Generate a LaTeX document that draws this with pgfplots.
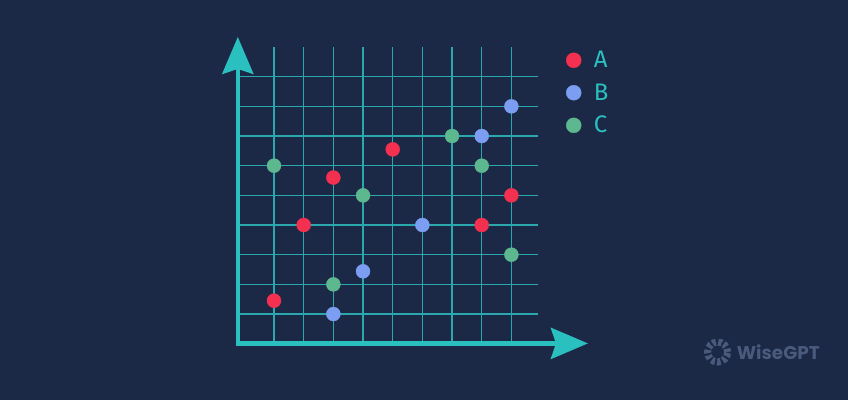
\documentclass[border=0pt]{standalone}
\usepackage{pgfplots}
\pgfplotsset{compat=1.18}
\usepackage{fontspec}
\setmainfont{Fira Sans}
\newfontfamily\wmfont{Poppins}
\usetikzlibrary{arrows.meta}
\definecolor{bg}{HTML}{1B2946}
\definecolor{gridc}{HTML}{2AA8AE}
\definecolor{axc}{HTML}{2BC0C0}
\definecolor{ared}{HTML}{F3304F}
\definecolor{bblue}{HTML}{7B9DF2}
\definecolor{cgreen}{HTML}{5DB78F}
\definecolor{wm}{HTML}{4A5A7C}

\begin{document}
\begin{tikzpicture}[x=1bp,y=1bp]
% page background, 848 x 400
\fill[bg] (-238.4,-56.3) rectangle (609.6,343.7);
\begin{axis}[
    at={(0,0)}, anchor=south west,
    scale only axis,
    width=299.7bp, height=296.7bp,
    xmin=-0.2, xmax=9.9, ymin=0, ymax=10,
    xtick={1,...,9}, ytick={1,...,9},
    xticklabels={}, yticklabels={},
    major tick length=0pt,
    grid=major,
    major grid style={gridc, line width=1.5bp},
    axis line style={draw=none},
    clip=false,
    legend cell align=left,
    legend image code/.code={\path (-6bp,0bp) (22bp,0bp); \fill[#1] (4bp,0bp) circle (7.5bp);},
    legend style={
        at={(axis cs:10.75,9.93)}, anchor=north west,
        draw=none, fill=none, text=axc,
        font=\fontsize{24}{28}\selectfont,
        row sep=10.5bp, inner sep=0pt,
        nodes={inner sep=2bp}
    }
]

% A
\addplot[only marks, mark=*, mark size=7bp, color=ared, mark options={draw=none, fill=ared}] coordinates {
    (1, 1.45)
    (2, 4)
    (3, 5.6)
    (5, 6.55)
    (8, 4)
    (9, 5)
};
% B
\addplot[only marks, mark=*, mark size=7bp, color=bblue, mark options={draw=none, fill=bblue}] coordinates {
    (3, 1)
    (4, 2.44)
    (6, 4)
    (8, 7)
    (9, 8)
};
% C
\addplot[only marks, mark=*, mark size=7bp, color=cgreen, mark options={draw=none, fill=cgreen}] coordinates {
    (1, 6)
    (3, 2)
    (4, 5)
    (7, 7)
    (8, 6)
    (9, 3)
};
\addlegendentry{A}
\addlegendentry{B}
\addlegendentry{C}

% axes with arrows
\draw[axc, line width=4.5bp, -{Stealth[length=37bp, width=31bp, inset=5bp]}]
    (axis cs:-0.22,-0.07) -- (axis cs:-0.22,10.34);
\draw[axc, line width=4.5bp, -{Stealth[length=37bp, width=31bp, inset=5bp]}]
    (axis cs:-0.29,0.01) -- (axis cs:11.58,0.01);

% watermark
\draw[wm, line width=7bp, dash pattern=on 3.4bp off 2.4bp] (axis cs:15.95,-0.28) circle (10bp);
\node[wm, anchor=west, inner sep=0pt, font=\wmfont\bfseries\fontsize{18.5}{18.5}\selectfont]
    at (axis cs:16.59,-0.28) {WiseGPT};
\end{axis}
\end{tikzpicture}
\end{document}
